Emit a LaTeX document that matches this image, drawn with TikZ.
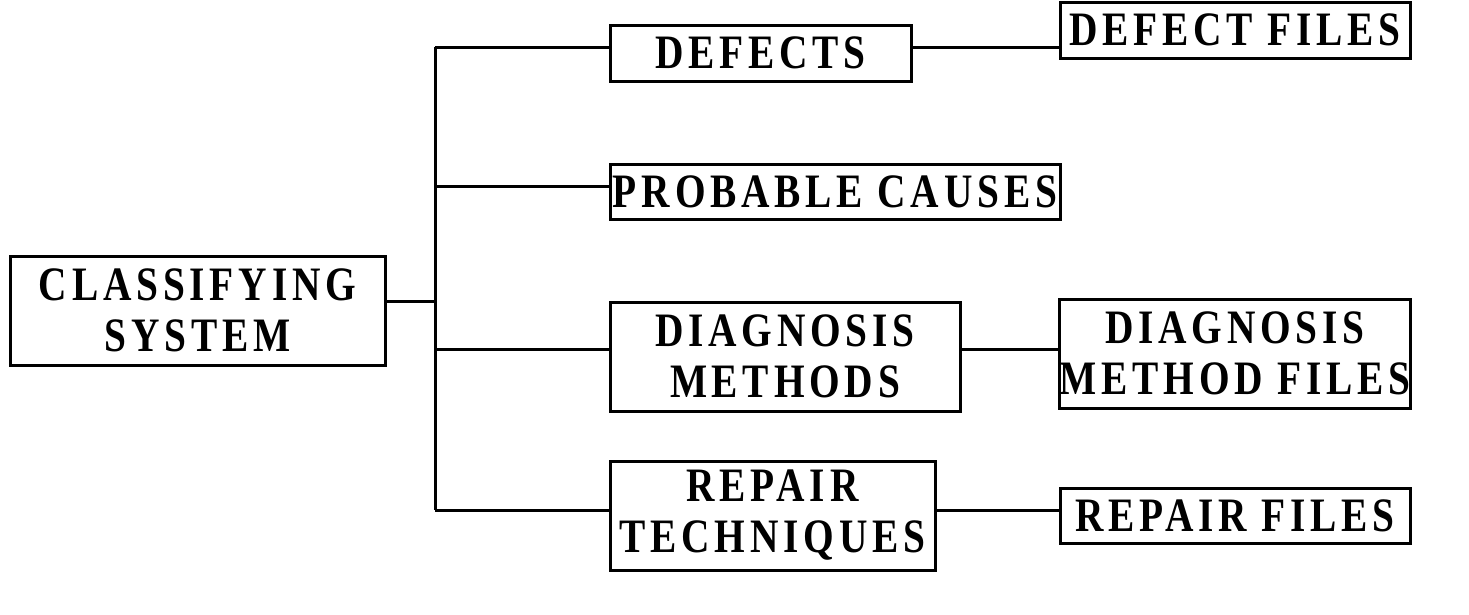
\documentclass[tikz,border=0pt]{standalone}
\usepackage{fontspec}
\setmainfont{Liberation Serif}[BoldFont={Liberation Serif Bold},BoldFeatures={FakeStretch=0.82,LetterSpace=10}]
\begin{document}
\begin{tikzpicture}[x=1pt,y=-1pt,
  box/.style={draw,line width=3pt,inner sep=0pt,align=center,
    font=\fontsize{48}{51}\selectfont\bfseries},
  link/.style={line width=3pt}]
\useasboundingbox (0,0) rectangle (1469,614);
\node[box,minimum width=375pt,minimum height=109pt] (cls) at (197.5,310.5) {CLASSIFYING\\SYSTEM};
\node[box,minimum width=301pt,minimum height=56pt] (def) at (760.5,53) {DEFECTS};
\node[box,minimum width=450pt,minimum height=55pt] (pc) at (835,191.5) {PROBABLE CAUSES};
\node[box,minimum width=350pt,minimum height=109pt] (dm) at (785,356.5) {DIAGNOSIS\\METHODS};
\node[box,minimum width=325pt,minimum height=109pt] (rt) at (772.5,515.5) {REPAIR\\TECHNIQUES};
\node[box,minimum width=350pt,minimum height=56pt] (df) at (1235,30) {DEFECT FILES};
\node[box,minimum width=350pt,minimum height=109pt] (dmf) at (1235,353.5) {DIAGNOSIS\\METHOD FILES};
\node[box,minimum width=350pt,minimum height=55pt] (rf) at (1235,515.5) {REPAIR FILES};
\coordinate (jc) at (435,301);
\coordinate (j1) at (435,47);
\coordinate (j2) at (435,186);
\coordinate (j3) at (435,349);
\coordinate (j4) at (435,510);
\draw[link] (cls.east |- jc) -- (jc);
\draw[link] (j1) -- (j4);
\draw[link] (j1) -- (def.west |- j1);
\draw[link] (j2) -- (pc.west |- j2);
\draw[link] (j3) -- (dm.west |- j3);
\draw[link] (j4) -- (rt.west |- j4);
\draw[link] (def.east |- j1) -- (df.west |- j1);
\draw[link] (dm.east |- j3) -- (dmf.west |- j3);
\draw[link] (rt.east |- j4) -- (rf.west |- j4);
\end{tikzpicture}
\end{document}
